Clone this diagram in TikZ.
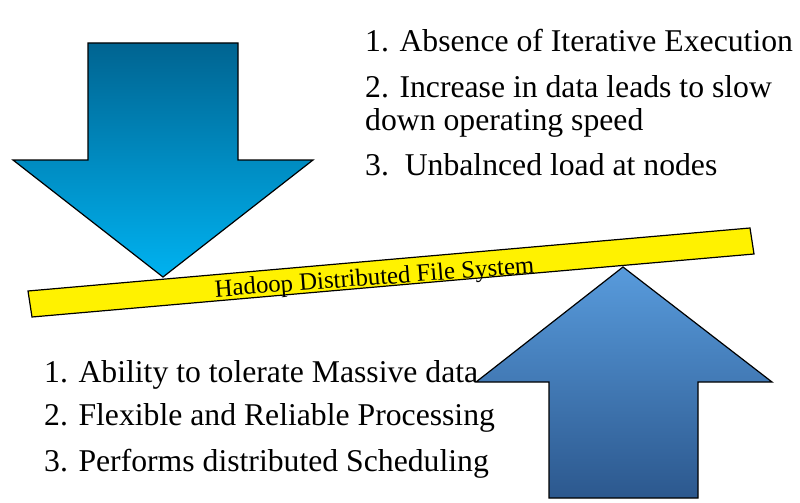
\documentclass[tikz,border=0pt]{standalone}
\usepackage{fontspec}
\setmainfont{Liberation Serif}
\definecolor{downtop}{RGB}{0,100,145}
\definecolor{downbot}{RGB}{0,178,240}
\definecolor{uptop}{RGB}{88,155,220}
\definecolor{upbot}{RGB}{44,88,142}
\tikzset{
  item/.style={anchor=base west, inner sep=0pt, font=\fontsize{31.7}{36}\selectfont},
  arrowshape/.style={draw=black, line width=1.2pt, line join=miter},
}
\begin{document}
\begin{tikzpicture}[x=1pt, y=-1pt]
\useasboundingbox[fill=white] (0,0) rectangle (800,503);
% down arrow
\shade[arrowshape, top color=downtop, bottom color=downbot]
  (88,43) -- (238,43) -- (238,160) -- (313,160) -- (163,277) -- (13,160) -- (88,160) -- cycle;
% up arrow
\shade[arrowshape, top color=uptop, bottom color=upbot]
  (623,267) -- (772,382) -- (698,382) -- (698,498) -- (549,498) -- (549,382) -- (476,382) -- cycle;
% bar
\draw[fill=yellow, draw=black, line width=1.2pt] (28,291) -- (750,228) -- (754,254) -- (32,317) -- cycle;
\node[inner sep=0pt, anchor=base, rotate=4.3, font=\fontsize{24.8}{28}\selectfont] (hdfs) at (375,285) {Hadoop Distributed File System};
% top list
\node[item] (t1) at (365,52) {1. Absence of Iterative Execution};
\node[item] (t2) at (365,97) {2. Increase in data leads to slow};
\node[item] (t3) at (365,130) {down operating speed};
\node[item] (t4) at (365,175) {3.\ \ Unbalnced load at nodes};
% bottom list
\node[item] (b1) at (44,382) {1. Ability to tolerate Massive data};
\node[item] (b2) at (44,425) {2. Flexible and Reliable Processing};
\node[item] (b3) at (44,471) {3. Performs distributed Scheduling};
\end{tikzpicture}
\end{document}
